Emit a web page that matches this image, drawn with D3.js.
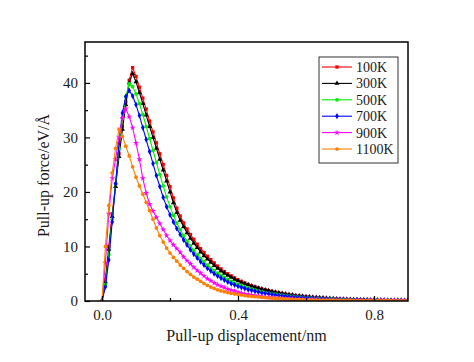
<!DOCTYPE html>
<html>
<head>
<meta charset="utf-8">
<script src="https://cdn.jsdelivr.net/npm/d3@7"></script>
<style>
  body { margin: 0; background: #fff; }
  svg { font-family: "Liberation Serif", "Times New Roman", serif; }
</style>
</head>
<body>
<svg width="474" height="362"></svg>
<script>
(function () {
    // displacement in nm, one sample every 0.01
    const displacement = [
        0.00, 0.01, 0.02, 0.03, 0.04, 0.05, 0.06, 0.07, 0.08, 0.09,
        0.10, 0.11, 0.12, 0.13, 0.14, 0.15, 0.16, 0.17, 0.18, 0.19,
        0.20, 0.21, 0.22, 0.23, 0.24, 0.25, 0.26, 0.27, 0.28, 0.29,
        0.30, 0.31, 0.32, 0.33, 0.34, 0.35, 0.36, 0.37, 0.38, 0.39,
        0.40, 0.41, 0.42, 0.43, 0.44, 0.45, 0.46, 0.47, 0.48, 0.49,
        0.50, 0.51, 0.52, 0.53, 0.54, 0.55, 0.56, 0.57, 0.58, 0.59,
        0.60, 0.61, 0.62, 0.63, 0.64, 0.65, 0.66, 0.67, 0.68, 0.69,
        0.70, 0.71, 0.72, 0.73, 0.74, 0.75, 0.76, 0.77, 0.78, 0.79,
        0.80, 0.81, 0.82, 0.83, 0.84, 0.85, 0.86, 0.87, 0.88, 0.89,
        0.90
    ];

    const force100K = [
        0, 4, 10, 16, 21.5, 27, 32, 36.5, 40.5, 42.8,
        41.2, 39.2, 37.2, 35.2, 33, 31, 29, 27, 25, 23,
        21, 18.9, 17, 15.6, 14.3, 13.2, 12.2, 11.3, 10.4, 9.6,
        8.9, 8.2, 7.6, 7, 6.4, 5.9, 5.4, 5, 4.6, 4.25,
        3.9, 3.6, 3.3, 3.05, 2.8, 2.6, 2.4, 2.2, 2.05, 1.9,
        1.75, 1.6, 1.48, 1.36, 1.25, 1.15, 1.06, 0.98, 0.9, 0.83,
        0.76, 0.7, 0.64, 0.59, 0.54, 0.5, 0.46, 0.42, 0.38, 0.35,
        0.32, 0.3, 0.27, 0.25, 0.23, 0.21, 0.19, 0.18, 0.16, 0.15,
        0.14, 0.13, 0.12, 0.11, 0.1, 0.09, 0.09, 0.08, 0.08, 0.07,
        0.07
    ];
    const force300K = [
        0, 3.5, 9.5, 15.5, 21, 26.5, 31.5, 36, 40, 41.7,
        40.2, 38.2, 36.2, 34.1, 32, 30, 28, 26, 24, 22,
        20, 18, 16.2, 14.8, 13.6, 12.5, 11.5, 10.6, 9.8, 9,
        8.3, 7.7, 7.1, 6.5, 6, 5.5, 5.1, 4.7, 4.35, 4,
        3.7, 3.45, 3.2, 2.95, 2.75, 2.55, 2.35, 2.2, 2.05, 1.9,
        1.75, 1.6, 1.5, 1.4, 1.3, 1.2, 1.1, 1, 0.95, 0.88,
        0.8, 0.75, 0.7, 0.65, 0.6, 0.55, 0.5, 0.46, 0.42, 0.39,
        0.36, 0.33, 0.3, 0.28, 0.26, 0.24, 0.22, 0.2, 0.18, 0.17,
        0.16, 0.15, 0.14, 0.13, 0.12, 0.11, 0.1, 0.1, 0.09, 0.09,
        0.08
    ];
    const force500K = [
        0, 3, 8.5, 15, 21.5, 28, 33.5, 37.5, 39.8, 39.3,
        38, 36.2, 34.2, 32, 29.8, 27.6, 25.4, 23.2, 21.1, 19.1,
        17.3, 15.7, 14.3, 13.1, 12, 11, 10.1, 9.3, 8.5, 7.8,
        7.2, 6.6, 6.05, 5.55, 5.1, 4.7, 4.3, 3.95, 3.6, 3.3,
        3.05, 2.8, 2.6, 2.4, 2.2, 2, 1.85, 1.7, 1.55, 1.45,
        1.35, 1.25, 1.15, 1.07, 1, 0.92, 0.85, 0.8, 0.74, 0.68,
        0.63, 0.58, 0.54, 0.5, 0.46, 0.43, 0.4, 0.37, 0.34, 0.31,
        0.29, 0.27, 0.25, 0.23, 0.21, 0.19, 0.18, 0.17, 0.16, 0.15,
        0.13, 0.12, 0.11, 0.1, 0.1, 0.09, 0.09, 0.08, 0.08, 0.07,
        0.07
    ];
    const force700K = [
        0, 2.6, 7.5, 14.5, 21.5, 29, 34.5, 37.5, 38.6, 37.6,
        36, 34, 31.8, 29.6, 27.4, 25.2, 23, 21, 19, 17.3,
        15.8, 14.5, 13.3, 12.2, 11.2, 10.3, 9.4, 8.6, 7.9, 7.2,
        6.6, 6, 5.5, 5, 4.6, 4.2, 3.85, 3.5, 3.2, 2.95,
        2.7, 2.5, 2.3, 2.1, 1.95, 1.8, 1.65, 1.5, 1.4, 1.3,
        1.2, 1.1, 1, 0.95, 0.88, 0.8, 0.75, 0.7, 0.65, 0.6,
        0.55, 0.51, 0.47, 0.43, 0.4, 0.37, 0.34, 0.31, 0.29, 0.27,
        0.25, 0.23, 0.21, 0.19, 0.18, 0.17, 0.16, 0.15, 0.14, 0.13,
        0.12, 0.11, 0.1, 0.1, 0.09, 0.09, 0.08, 0.08, 0.07, 0.07,
        0.06
    ];
    const force900K = [
        0, 7, 16, 22.5, 26, 30, 33.5, 35.3, 33.8, 31.8,
        29, 26, 22.5, 19.8, 17.8, 16.5, 15.3, 14.2, 13.1, 12,
        11.1, 10.3, 9.6, 8.9, 8.1, 7.4, 6.8, 6.2, 5.6, 5.1,
        4.6, 4.1, 3.7, 3.3, 3, 2.7, 2.45, 2.2, 2, 1.8,
        1.6, 1.45, 1.3, 1.2, 1.1, 1, 0.9, 0.82, 0.76, 0.7,
        0.64, 0.59, 0.54, 0.5, 0.46, 0.42, 0.39, 0.36, 0.33, 0.3,
        0.28, 0.26, 0.24, 0.22, 0.2, 0.19, 0.18, 0.17, 0.16, 0.15,
        0.14, 0.13, 0.12, 0.11, 0.1, 0.1, 0.09, 0.09, 0.08, 0.08,
        0.07, 0.07, 0.06, 0.06, 0.06, 0.05, 0.05, 0.05, 0.05, 0.04,
        0.04
    ];
    const force1100K = [
        0, 10, 17.5, 23.5, 28, 31.5, 30.2, 28.4, 26.6, 24.6,
        22.7, 21.1, 19.6, 18.1, 16.6, 15, 13.4, 12, 10.8, 9.7,
        8.8, 8, 7.3, 6.6, 6, 5.4, 4.9, 4.4, 4, 3.6,
        3.2, 2.85, 2.55, 2.3, 2.05, 1.85, 1.7, 1.55, 1.4, 1.3,
        1.2, 1.1, 1, 0.9, 0.85, 0.8, 0.74, 0.68, 0.63, 0.58,
        0.54, 0.5, 0.46, 0.42, 0.39, 0.36, 0.33, 0.3, 0.28, 0.26,
        0.24, 0.22, 0.2, 0.19, 0.18, 0.17, 0.16, 0.15, 0.14, 0.13,
        0.12, 0.11, 0.1, 0.1, 0.09, 0.09, 0.08, 0.08, 0.07, 0.07,
        0.06, 0.06, 0.06, 0.05, 0.05, 0.05, 0.04, 0.04, 0.04, 0.04,
        0.03
    ];

    const seriesNames = ['100K', '300K', '500K', '700K', '900K', '1100K'];
    const seriesValues = [force100K, force300K, force500K, force700K, force900K, force1100K];
    const seriesColors = ['#ff0000', '#000000', '#00ee00', '#0000ff', '#ff00ff', '#ff8000'];
    const seriesSymbols = [d3.symbolSquare, d3.symbolTriangle, d3.symbolCircle,
                           d3.symbolDiamond, d3.symbolStar, d3.symbolCircle];

    const xMajorTicks = [0.0, 0.4, 0.8];
    const xMinorTicks = [0.2, 0.6];
    const yMajorTicks = [0, 10, 20, 30, 40];
    const yMinorTicks = [5, 15, 25, 35, 45];

    const svg = d3.select('svg');
    const margin = { left: 85, right: 66, top: 42, bottom: 61 };
    const width = +svg.attr('width') - margin.left - margin.right,
          height = +svg.attr('height') - margin.top - margin.bottom;

    const x = d3.scaleLinear().domain([-0.05, 0.9]).range([0, width]);
    const y = d3.scaleLinear().domain([0, 47.5]).range([height, 0]);

    const g = svg.append('g')
            .attr('transform', `translate(${margin.left},${margin.top})`);

    g.append('clipPath')
        .attr('id', 'plot-clip')
        .append('rect')
        .attr('width', width)
        .attr('height', height);

    const plot = g.append('g').attr('clip-path', 'url(#plot-clip)');

    const line = d3.line()
            .x((d, i) => x(displacement[i]))
            .y(d => y(d));

    seriesValues.forEach((vals, k) => {
        const s = plot.append('g');
        s.append('path')
            .datum(vals)
            .attr('fill', 'none')
            .attr('stroke', seriesColors[k])
            .attr('stroke-width', 1.1)
            .attr('d', line);
        s.selectAll('path.pt')
            .data(vals)
            .enter().append('path')
            .attr('class', 'pt')
            .attr('transform', (d, i) => `translate(${x(displacement[i])},${y(d)})`)
            .attr('d', d3.symbol().type(seriesSymbols[k]).size(11))
            .attr('fill', seriesColors[k]);
    });

    // axes, ticks pointing inward
    const styleAxis = sel => {
        sel.select('.domain').remove();
        sel.selectAll('line').attr('stroke', '#000').attr('stroke-width', 1.2);
        sel.selectAll('text').attr('fill', '#1a1a1a').style('font-size', '15px')
            .style('font-family', '"Liberation Serif", serif');
    };

    g.append('g')
        .attr('transform', `translate(0,${height})`)
        .call(d3.axisBottom(x).tickValues(xMajorTicks).tickFormat(d3.format('.1f'))
                .tickSize(-5).tickPadding(8))
        .call(styleAxis);
    g.append('g')
        .attr('transform', `translate(0,${height})`)
        .call(d3.axisBottom(x).tickValues(xMinorTicks).tickFormat('').tickSize(-3))
        .call(styleAxis);

    g.append('g')
        .call(d3.axisLeft(y).tickValues(yMajorTicks).tickSize(-5).tickPadding(7))
        .call(styleAxis);
    g.append('g')
        .call(d3.axisLeft(y).tickValues(yMinorTicks).tickFormat('').tickSize(-3))
        .call(styleAxis);

    g.append('rect')
        .attr('width', width)
        .attr('height', height)
        .attr('fill', 'none')
        .attr('stroke', '#000')
        .attr('stroke-width', 1.5);

    g.append('text')
        .attr('x', width / 2)
        .attr('y', height + 40)
        .attr('text-anchor', 'middle')
        .attr('fill', '#1a1a1a')
        .style('font-size', '16px')
        .text('Pull-up displacement/nm');

    g.append('text')
        .attr('transform', `translate(${-36},${height / 2 + 4}) rotate(-90)`)
        .attr('text-anchor', 'middle')
        .attr('fill', '#1a1a1a')
        .style('font-size', '16px')
        .text('Pull-up force/eV/Å');

    // legend
    const legend = g.append('g')
            .attr('transform', `translate(${319 - margin.left},${57 - margin.top})`);
    legend.append('rect')
        .attr('width', 79)
        .attr('height', 106)
        .attr('fill', '#fff')
        .attr('stroke', '#333')
        .attr('stroke-width', 1);

    seriesNames.forEach((name, k) => {
        const ly = 10 + k * 16.4;
        const row = legend.append('g').attr('transform', `translate(0,${ly})`);
        row.append('line')
            .attr('x1', 3).attr('x2', 33)
            .attr('stroke', seriesColors[k])
            .attr('stroke-width', 1.1);
        row.append('path')
            .attr('transform', 'translate(18,0)')
            .attr('d', d3.symbol().type(seriesSymbols[k]).size(11))
            .attr('fill', seriesColors[k]);
        row.append('text')
            .attr('x', 37)
            .attr('dy', '0.35em')
            .attr('fill', '#1a1a1a')
            .style('font-size', '14px')
            .text(name);
    });
})();
</script>
</body>
</html>
